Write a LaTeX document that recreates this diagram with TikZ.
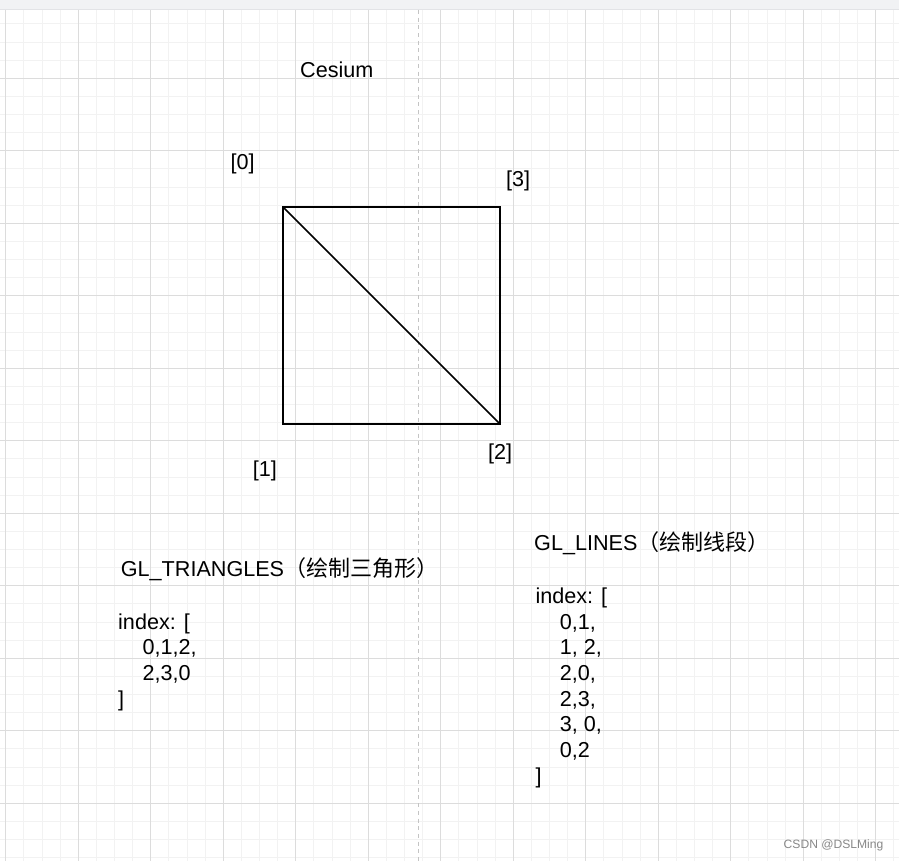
\documentclass[tikz,border=0pt]{standalone}
\usepackage{fontspec}
\setmainfont{Liberation Sans}
\newfontfamily\cjk[Scale=1.02]{Noto Sans CJK SC}
\definecolor{gridminor}{HTML}{F2F2F2}
\definecolor{gridmajor}{HTML}{DCDCDC}
\definecolor{topbar}{HTML}{F1F2F4}
\definecolor{topedge}{HTML}{E2E3E6}
\definecolor{dashgrey}{HTML}{C4C4C4}
\definecolor{wmark}{HTML}{888888}
\begin{document}
\begin{tikzpicture}[x=1pt,y=-1pt,
  minorline/.style={draw=gridminor,line width=1pt},
  majorline/.style={draw=gridmajor,line width=1pt},
  txt/.style={inner sep=0pt,anchor=base west,font=\fontsize{21.6}{25.7}\selectfont},
  shapeline/.style={draw=black,line width=1.7pt,line join=miter},
  wm/.style={inner sep=0pt,anchor=base west,text=wmark,font=\fontsize{12.1}{14}\selectfont}]
\useasboundingbox (0,0) rectangle (899,861);
\fill[white] (0,0) rectangle (899,861);
% grid
\foreach \i in {0,...,49} {
  \draw[minorline] ({5.8+18.125*\i},0) -- ({5.8+18.125*\i},861);
  \draw[minorline] (0,{5.8+18.125*\i}) -- (899,{5.8+18.125*\i});
}
\foreach \i in {0,...,12} {
  \draw[majorline] ({5.8+72.5*\i},0) -- ({5.8+72.5*\i},861);
  \draw[majorline] (0,{5.8+72.5*\i}) -- (899,{5.8+72.5*\i});
}
% top bar
\fill[topbar] (0,0) rectangle (899,9.3);
\draw[topedge,line width=0.8pt] (0,9.3) -- (899,9.3);
% dashed divider
\coordinate (dtop) at (418.6,10);
\coordinate (dbot) at (418.6,861);
\draw[dashgrey,line width=1.5pt,dash pattern=on 4pt off 3.7pt] (dtop) -- (dbot);
% square
\coordinate (c0) at (283,207);
\coordinate (c1) at (283,424);
\coordinate (c2) at (500,424);
\coordinate (c3) at (500,207);
\draw[shapeline] (c0) -- (c1) -- (c2) -- (c3) -- cycle;
\draw[shapeline] (c0) -- (c2);
% labels
\node[txt] (title) at (300,77.7) {Cesium};
\node[txt] (l0) at (230.4,169.5) {[0]};
\node[txt] (l3) at (506,186) {[3]};
\node[txt] (l1) at (252.7,476) {[1]};
\node[txt] (l2) at (488,459) {[2]};
% left block
\node[txt] (tritl) at (120.7,576.7) {GL\_TRIANGLES{\cjk （绘制三角形）}};
\node[txt] (triidx) at (118,629) {\begin{tabular}[t]{@{}l@{}}index: [\\
\hspace*{24.4pt}0,1,2,\\
\hspace*{24.4pt}2,3,0\\
]\end{tabular}};
% right block
\node[txt] (lintl) at (534,550) {GL\_LINES{\cjk （绘制线段）}};
\node[txt] (linidx) at (535.3,603.3) {\begin{tabular}[t]{@{}l@{}}index: [\\
\hspace*{24.4pt}0,1,\\
\hspace*{24.4pt}1, 2,\\
\hspace*{24.4pt}2,0,\\
\hspace*{24.4pt}2,3,\\
\hspace*{24.4pt}3, 0,\\
\hspace*{24.4pt}0,2\\
]\end{tabular}};
% watermark
\node[wm] (mark) at (783.5,848.3) {CSDN @DSLMing};
\end{tikzpicture}
\end{document}
